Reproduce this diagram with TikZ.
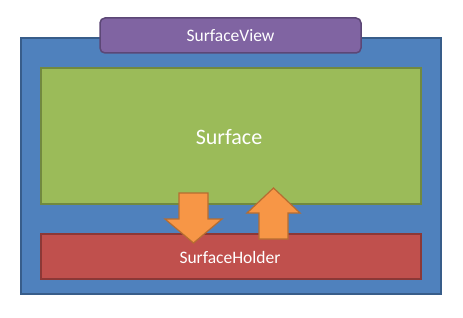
\documentclass[tikz,border=0pt]{standalone}
\usepackage{fontspec}
\setmainfont{Carlito}
\definecolor{bluefill}{HTML}{4F81BD}
\definecolor{blueline}{HTML}{385D8A}
\definecolor{purpfill}{HTML}{8064A2}
\definecolor{purpline}{HTML}{5C4776}
\definecolor{greenfill}{HTML}{9BBB59}
\definecolor{greenline}{HTML}{71893F}
\definecolor{redfill}{HTML}{C0504D}
\definecolor{redline}{HTML}{8C3836}
\definecolor{orangefill}{HTML}{F79646}
\definecolor{orangeline}{HTML}{B66D31}
\begin{document}
\begin{tikzpicture}[x=1pt,y=-1pt,
  panel/.style={line width=1.5pt},
  lbl/.style={text=white, font=\fontsize{17.5}{20}\selectfont},
  blockarrow/.style={fill=orangefill, draw=orangeline, line width=1.2pt, line join=miter}]
\useasboundingbox (0,0) rectangle (463,318);
\draw[panel, fill=bluefill, draw=blueline] (21,38) rectangle (441,294);
\draw[panel, fill=purpfill, draw=purpline, rounded corners=5pt] (100,18) rectangle (361,53);
\node[lbl] (view) at (230.5,36) {SurfaceView};
\draw[panel, fill=greenfill, draw=greenline] (41,68) rectangle (421,204);
\node[lbl, font=\fontsize{22}{26}\selectfont] (surf) at (229,137) {Surface};
\draw[panel, fill=redfill, draw=redline] (41,234) rectangle (421,279);
\node[lbl] (holder) at (230,257) {SurfaceHolder};
\draw[blockarrow] (179,193) -- (208,193) -- (208,219) -- (222,219) -- (193.5,243) -- (165,219) -- (179,219) -- cycle;
\draw[blockarrow] (259,239) -- (288,239) -- (288,213) -- (300,213) -- (273.5,188) -- (247,213) -- (259,213) -- cycle;
\end{tikzpicture}
\end{document}
